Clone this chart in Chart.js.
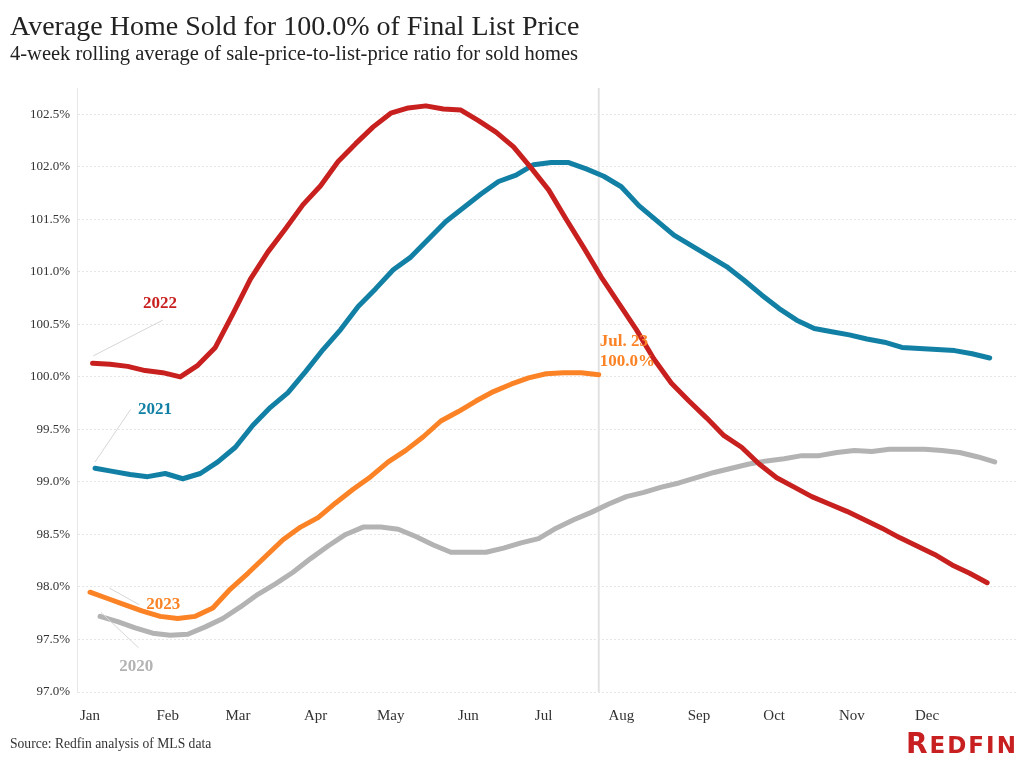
<!DOCTYPE html>
<html>
<head>
<meta charset="utf-8">
<script src="https://cdn.jsdelivr.net/npm/chart.js@4.4.1/dist/chart.umd.min.js"></script>
<style>
  body { margin: 0; background: #fff; }
  #wrap { position: relative; width: 1024px; height: 762px; overflow: hidden; background: #fff; }
  #chart { position: absolute; left: 0; top: 0; }
  #title { position: absolute; left: 10px; top: 12px; font: 28px/28px "Liberation Serif", "Times New Roman", serif; color: #222; white-space: nowrap; }
  #subtitle { position: absolute; left: 10px; top: 43px; font: 20.5px/20.5px "Liberation Serif", "Times New Roman", serif; color: #222; white-space: nowrap; }
  #source { position: absolute; left: 10px; top: 737px; font: 13.6px/13.6px "Liberation Serif", "Times New Roman", serif; color: #333; white-space: nowrap; }
  #logo { position: absolute; left: 906px; top: 730px; font: bold 28px/28px "DejaVu Sans", "Liberation Sans", sans-serif; color: #c82021; letter-spacing: 2px; white-space: nowrap; }
  #logo small { font-size: 23px; }
</style>
</head>
<body>
<div id="wrap">
  <canvas id="chart" width="1024" height="762"></canvas>
  <div id="title">Average Home Sold for 100.0% of Final List Price</div>
  <div id="subtitle">4-week rolling average of sale-price-to-list-price ratio for sold homes</div>
  <div id="source">Source: Redfin analysis of MLS data</div>
  <div id="logo">R<small>EDFIN</small></div>
</div>
<script>
// ---- data ----
const monthLabels = ["Jan", "Feb", "Mar", "Apr", "May", "Jun", "Jul", "Aug", "Sep", "Oct", "Nov", "Dec"];
const monthStartDays = [1, 32, 60, 91, 121, 152, 182, 213, 244, 274, 305, 335];
const yTicks = [97.0, 97.5, 98.0, 98.5, 99.0, 99.5, 100.0, 100.5, 101.0, 101.5, 102.0, 102.5];

// days since the first week of each year (weekly points)
const weekOffsets = [0, 7, 14, 21, 28, 35, 42, 49, 56, 63, 70, 77, 84, 91, 98, 105, 112, 119, 126, 133,
  140, 147, 154, 161, 168, 175, 182, 189, 196, 203, 210, 217, 224, 231, 238, 245, 252, 259, 266, 273,
  280, 287, 294, 301, 308, 315, 322, 329, 336, 343, 350, 357];
const firstDay = { "2020": 5, "2021": 3, "2022": 2, "2023": 1 };

const values2020 = [97.72, 97.67, 97.61, 97.56, 97.54, 97.55, 97.62, 97.70, 97.81, 97.93,
  98.03, 98.14, 98.27, 98.39, 98.50, 98.57, 98.57, 98.55, 98.48, 98.40,
  98.33, 98.33, 98.33, 98.37, 98.42, 98.46, 98.56, 98.64, 98.71, 98.79,
  98.86, 98.90, 98.95, 98.99, 99.04, 99.09, 99.13, 99.17, 99.20, 99.22,
  99.25, 99.25, 99.28, 99.30, 99.29, 99.31, 99.31, 99.31, 99.30, 99.28,
  99.24, 99.19];
const values2021 = [99.13, 99.10, 99.07, 99.05, 99.08, 99.03, 99.08, 99.19, 99.33, 99.54,
  99.71, 99.85, 100.05, 100.26, 100.45, 100.67, 100.84, 101.02, 101.14, 101.31,
  101.48, 101.61, 101.74, 101.86, 101.92, 102.02, 102.04, 102.04, 101.98, 101.91,
  101.81, 101.63, 101.49, 101.35, 101.25, 101.15, 101.05, 100.92, 100.78, 100.65,
  100.54, 100.46, 100.43, 100.40, 100.36, 100.33, 100.28, 100.27, 100.26, 100.25,
  100.22, 100.18];
const values2022 = [100.13, 100.12, 100.10, 100.06, 100.04, 100.00, 100.11, 100.28, 100.60, 100.93,
  101.19, 101.41, 101.64, 101.82, 102.05, 102.22, 102.38, 102.51, 102.56, 102.58,
  102.55, 102.54, 102.44, 102.33, 102.19, 101.99, 101.78, 101.50, 101.23, 100.95,
  100.70, 100.45, 100.17, 99.94, 99.77, 99.61, 99.44, 99.33, 99.17, 99.04,
  98.95, 98.86, 98.79, 98.72, 98.64, 98.56, 98.47, 98.39, 98.31, 98.21,
  98.13, 98.04];
const values2023 = [97.95, 97.89, 97.83, 97.77, 97.72, 97.70, 97.72, 97.80, 97.98, 98.13,
  98.29, 98.45, 98.57, 98.66, 98.80, 98.93, 99.05, 99.19, 99.30, 99.43,
  99.58, 99.67, 99.77, 99.86, 99.93, 99.99, 100.03, 100.04, 100.04, 100.02];

const latestDay = 204;            // Jul. 23
const latestLabel = ["Jul. 23", "100.0%"];

const colors = { "2020": "#b3b3b3", "2021": "#1280a5", "2022": "#c8201f", "2023": "#fb8326" };

// label positions (day of year, value) for the year tags and their leader lines
const yearTags = [
  { year: "2022", at: [28.9, 100.70], from: [2.3, 100.20], to: [30.0, 100.54] },
  { year: "2021", at: [26.9, 99.69], from: [3.0, 99.19], to: [17.2, 99.69] },
  { year: "2023", at: [30.2, 97.83], from: [8.7, 97.99], to: [20.7, 97.83] },
  { year: "2020", at: [19.4, 97.24], from: [5.3, 97.76], to: [20.4, 97.42] }
];

function points(year, vals) {
  return vals.map((v, i) => ({ x: firstDay[year] + weekOffsets[i], y: v }));
}

// ---- plugins ----
const latestLine = {
  id: "latestLine",
  beforeDatasetsDraw(chart) {
    const { ctx, chartArea, scales } = chart;
    const x = scales.x.getPixelForValue(latestDay);
    ctx.save();
    ctx.strokeStyle = "#e2e2e2";
    ctx.lineWidth = 2;
    ctx.beginPath();
    ctx.moveTo(x, chartArea.top);
    ctx.lineTo(x, chartArea.bottom);
    ctx.stroke();
    ctx.restore();
  },
  afterDatasetsDraw(chart) {
    const { ctx, scales } = chart;
    const x = scales.x.getPixelForValue(latestDay);
    ctx.save();
    ctx.font = "bold 17px 'Liberation Serif', 'Times New Roman', serif";
    ctx.fillStyle = colors["2023"];
    ctx.textAlign = "left";
    ctx.textBaseline = "middle";
    ctx.fillText(latestLabel[0], x + 1, scales.y.getPixelForValue(100.34));
    ctx.fillText(latestLabel[1], x + 1, scales.y.getPixelForValue(100.15));
    ctx.restore();
  }
};

const yearLabels = {
  id: "yearLabels",
  afterDatasetsDraw(chart) {
    const { ctx, scales } = chart;
    const px = p => [scales.x.getPixelForValue(p[0]), scales.y.getPixelForValue(p[1])];
    ctx.save();
    yearTags.forEach(t => {
      const a = px(t.from), b = px(t.to), c = px(t.at);
      ctx.strokeStyle = "#d6d6d6";
      ctx.lineWidth = 1;
      ctx.beginPath();
      ctx.moveTo(a[0], a[1]);
      ctx.lineTo(b[0], b[1]);
      ctx.stroke();
      ctx.font = "bold 17px 'Liberation Serif', 'Times New Roman', serif";
      ctx.fillStyle = colors[t.year];
      ctx.textAlign = "center";
      ctx.textBaseline = "middle";
      ctx.fillText(t.year, c[0], c[1]);
    });
    ctx.restore();
  }
};

// ---- chart ----
const lineStyle = {
  borderWidth: 5,
  pointRadius: 0,
  tension: 0,
  fill: false,
  borderCapStyle: "round",
  borderJoinStyle: "round"
};

const ctx = document.getElementById("chart").getContext("2d");
new Chart(ctx, {
  type: "line",
  data: {
    datasets: [
      { label: "2022", data: points("2022", values2022), borderColor: colors["2022"], order: 0, ...lineStyle },
      { label: "2023", data: points("2023", values2023), borderColor: colors["2023"], order: 1, ...lineStyle },
      { label: "2021", data: points("2021", values2021), borderColor: colors["2021"], order: 2, ...lineStyle },
      { label: "2020", data: points("2020", values2020), borderColor: colors["2020"], order: 3, ...lineStyle }
    ]
  },
  options: {
    responsive: false,
    animation: false,
    devicePixelRatio: 1,
    layout: { padding: { top: 88, right: 8, bottom: 0, left: 0 } },
    plugins: {
      legend: { display: false },
      tooltip: { enabled: false }
    },
    scales: {
      x: {
        type: "linear",
        min: -4.2,
        max: 370.5,
        afterBuildTicks: scale => { scale.ticks = monthStartDays.map(d => ({ value: d })); },
        afterFit: scale => { scale.height = 70; },
        grid: { display: false },
        border: { display: false },
        ticks: {
          autoSkip: false,
          maxRotation: 0,
          minRotation: 0,
          padding: 7,
          color: "#333",
          font: { family: "'Liberation Serif', 'Times New Roman', serif", size: 15 },
          callback: (v, i) => monthLabels[i]
        }
      },
      y: {
        min: 97,
        max: 102.75,
        afterBuildTicks: scale => { scale.ticks = yTicks.map(v => ({ value: v })); },
        afterFit: scale => { scale.width = 77; },
        grid: { color: "#e6e6e6", lineWidth: 1, drawTicks: false },
        border: { display: true, color: "#e8e8e8", width: 1, dash: [2, 2] },
        ticks: {
          padding: 7,
          color: "#333",
          font: { family: "'Liberation Serif', 'Times New Roman', serif", size: 13 },
          callback: v => v.toFixed(1) + "%"
        }
      }
    }
  },
  plugins: [latestLine, yearLabels]
});
</script>
</body>
</html>
